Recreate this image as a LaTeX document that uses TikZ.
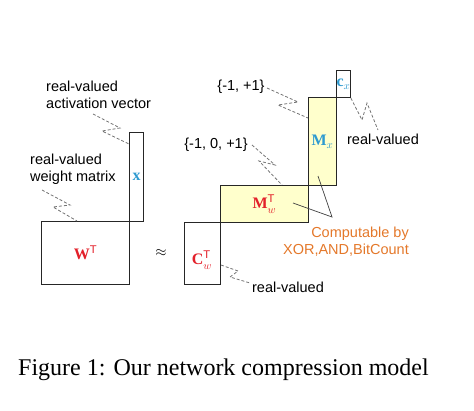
\documentclass[tikz,border=0pt]{standalone}
\usepackage{fontspec}
\setmainfont{Liberation Serif}
\setsansfont{Liberation Sans}
\usetikzlibrary{positioning}

\definecolor{matred}{HTML}{E3202A}
\definecolor{matblue}{HTML}{2E9AD0}
\definecolor{binfill}{HTML}{FFFFCC}
\definecolor{noteorange}{HTML}{E4782A}

\tikzset{
	mat/.style={draw=black!85, line width=1pt, inner sep=0pt, anchor=north west, font=\fontsize{16}{18}\selectfont},
	binmat/.style={mat, fill=binfill},
	note/.style={font=\sffamily\fontsize{14.5}{17}\selectfont, inner sep=0pt},
	zig/.style={densely dashed, black!55, line width=0.8pt},
	lead/.style={black!75, line width=0.7pt}
}

\begin{document}
\begin{tikzpicture}[x=1pt, y=-1pt]
	\useasboundingbox (0,0) rectangle (474,410);

	% Left side: W^T x
	\node[mat, minimum width=88pt, minimum height=63pt] (W) at (41,221) {$\color{matred}\mathbf{W}^{\mathsf{T}}$};
	\node[mat, minimum width=14pt, minimum height=89pt] (x) at (129,132) {$\color{matblue}\mathbf{x}$};
	\node[font=\fontsize{14}{16}\selectfont] (approx) at (161,253) {$\approx$};

	% Right side: C_w^T M_w^T M_x c_x
	\node[mat, minimum width=36pt, minimum height=62pt] (Cw) at (184,222) {};
	\node[font=\fontsize{16}{18}\selectfont, inner sep=0pt] (Cwlabel) at (202,260) {$\color{matred}\mathbf{C}_w^{\mathsf{T}}$};
	\node[binmat, minimum width=88pt, minimum height=37pt] (Mw) at (220,185) {$\color{matred}\mathbf{M}_w^{\mathsf{T}}$};
	\node[binmat, minimum width=28pt, minimum height=88pt] (Mx) at (308,97) {$\color{matblue}\mathbf{M}_x$};
	\node[mat, minimum width=12.5pt, minimum height=27pt] (cx) at (336,70) {$\color{matblue}\mathbf{c}_x$};

	% Notes
	\node[note, anchor=west, align=left] (actnote) at (46,94.5) {real-valued\\activation vector};
	\node[note, anchor=west, align=left] (wnote) at (30,169.5) {real-valued\\weight matrix};
	\node[note] (pmone) at (241,87) {\{-1, +1\}};
	\node[note] (pmzero) at (216,145) {\{-1, 0, +1\}};
	\node[note] (cxnote) at (383,139) {real-valued};
	\node[note] (cwnote) at (288,287) {real-valued};
	\node[note, anchor=east, align=right, text=noteorange] (bitnote) at (409,241.5) {Computable by\\XOR,AND,BitCount};

	% Zigzag leaders
	\draw[zig] (93,114) -- (120,128) -- (102,131) -- (x.west |- 0,144);
	\draw[zig] (42,190) -- (70,205) -- (53,207) -- (W.north -| 77,0);
	\draw[zig] (267,88) -- (298,102) -- (278,105) -- (Mx.west |- 0,118);
	\draw[zig] (252,145) -- (275,165) -- (259,161) -- (Mw.north -| 282,0);
	\draw[zig] (cx.south east) -- (362,120) -- (367,103) -- (378,130);
	\draw[zig] (Cw.east |- 0,265) -- (238,271) -- (230,277) -- (250,283);

	% Computable leaders
	\coordinate (bit) at (332,217);
	\draw[lead] (318,176) -- (bit) -- (293,203);

	% Caption
	\node[font=\fontsize{24}{28}\selectfont] (caption) at (223.5,370) {Figure 1: Our network compression model};

\end{tikzpicture}
\end{document}
